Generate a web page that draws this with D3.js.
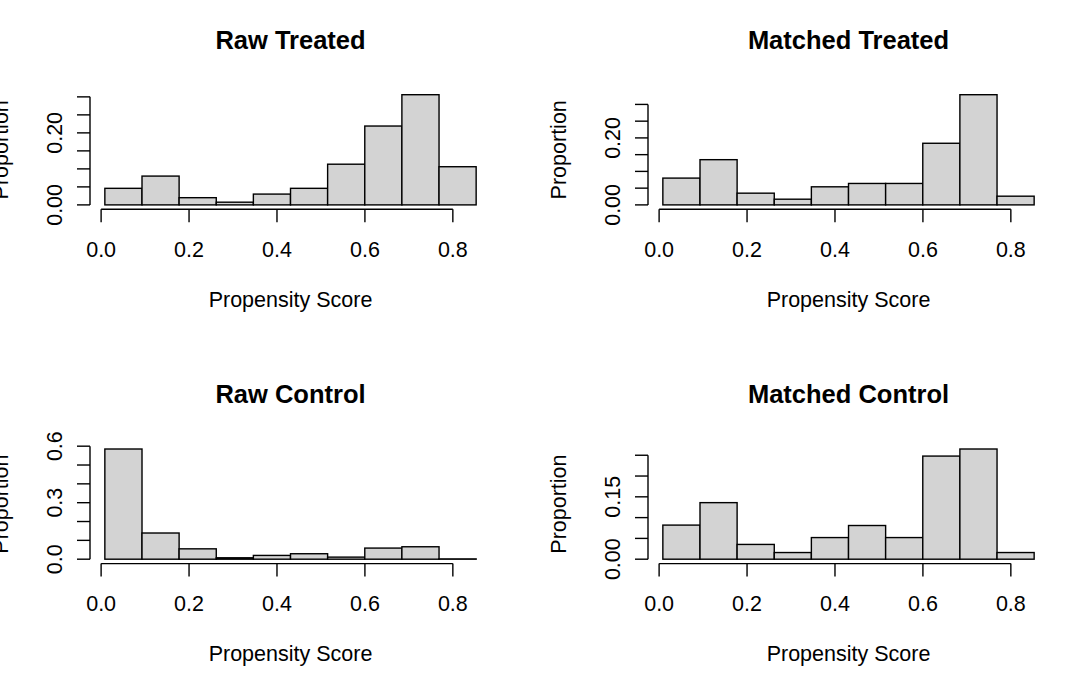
<!DOCTYPE html>
<html>
<head>
<meta charset="utf-8">
<script src="https://cdn.jsdelivr.net/npm/d3@7"></script>
<style>
  body { margin: 0; background: #fff; }
  svg text { font-family: "Liberation Sans", Arial, sans-serif; fill: #000; }
</style>
</head>
<body>
<svg id="chart" width="1080" height="673"></svg>
<script>
// histogram bin edges (shared by all four panels)
var breaks = [0.0085, 0.0930, 0.1774, 0.2619, 0.3463, 0.4308, 0.5152, 0.5997, 0.6841, 0.7686, 0.8530];

// proportions per bin
var rawTreated     = [0.046, 0.080, 0.020, 0.0075, 0.030, 0.046, 0.113, 0.219, 0.306, 0.106];
var matchedTreated = [0.080, 0.135, 0.035, 0.017, 0.054, 0.064, 0.064, 0.184, 0.329, 0.026];
var rawControl     = [0.585, 0.139, 0.055, 0.0075, 0.020, 0.029, 0.011, 0.059, 0.066, 0.0015];
var matchedControl = [0.082, 0.136, 0.0355, 0.016, 0.052, 0.081, 0.052, 0.248, 0.265, 0.016];

var titles = ["Raw Treated", "Matched Treated", "Raw Control", "Matched Control"];

// axis ticks
var xTicks = [0, 0.2, 0.4, 0.6, 0.8];
var xTickLabels = ["0.0", "0.2", "0.4", "0.6", "0.8"];
var yTicksTreated = [0, 0.05, 0.10, 0.15, 0.20, 0.25, 0.30];
var yTicksRawControl = [0, 0.1, 0.2, 0.3, 0.4, 0.5, 0.6];
var yTicksMatchedControl = [0, 0.05, 0.10, 0.15, 0.20, 0.25];
// only some tick labels are printed (R drops the overlapping ones)
var yLabelsTreated = [[0, "0.00"], [0.20, "0.20"]];
var yLabelsRawControl = [[0, "0.0"], [0.3, "0.3"], [0.6, "0.6"]];
var yLabelsMatchedControl = [[0, "0.00"], [0.15, "0.15"]];

var panels = [
  { title: titles[0], values: rawTreated,     yTicks: yTicksTreated,        yLabels: yLabelsTreated,        col: 0, row: 0 },
  { title: titles[1], values: matchedTreated, yTicks: yTicksTreated,        yLabels: yLabelsTreated,        col: 1, row: 0 },
  { title: titles[2], values: rawControl,     yTicks: yTicksRawControl,     yLabels: yLabelsRawControl,     col: 0, row: 1 },
  { title: titles[3], values: matchedControl, yTicks: yTicksMatchedControl, yLabels: yLabelsMatchedControl, col: 1, row: 1 }
];

var svg = d3.select("#chart");
var colLeft = [90, 648], rowTop = [90.3, 444.6];
var pw = 401, ph = 119, tickLen = 13;

panels.forEach(function(p) {
  var left = colLeft[p.col], top = rowTop[p.row];
  var g = svg.append("g").attr("transform", "translate(" + left + "," + top + ")");

  // R style 4% padding on both axes
  var lo = breaks[0], hi = breaks[breaks.length - 1], pad = (hi - lo) * 0.04;
  var x = d3.scaleLinear().domain([lo - pad, hi + pad]).range([0, pw]);
  var ymax = d3.max(p.values);
  var y = d3.scaleLinear().domain([-0.04 * ymax, 1.04 * ymax]).range([ph, 0]);

  var bins = p.values.map(function(v, i) { return { x0: breaks[i], x1: breaks[i + 1], v: v }; });

  g.selectAll(".bar").data(bins).enter().append("rect")
    .attr("class", "bar")
    .attr("x", function(d) { return x(d.x0); })
    .attr("width", function(d) { return x(d.x1) - x(d.x0); })
    .attr("y", function(d) { return y(d.v); })
    .attr("height", function(d) { return y(0) - y(d.v); })
    .attr("fill", "#d3d3d3")
    .attr("stroke", "#000")
    .attr("stroke-width", 1.4);

  // x axis
  var xa = g.append("g").attr("transform", "translate(0," + ph + ")");
  xa.append("line")
    .attr("x1", x(xTicks[0])).attr("x2", x(xTicks[xTicks.length - 1]))
    .attr("stroke", "#000").attr("stroke-width", 1.4);
  xa.selectAll(".xt").data(xTicks).enter().append("line")
    .attr("x1", function(d) { return x(d); }).attr("x2", function(d) { return x(d); })
    .attr("y1", 0).attr("y2", tickLen)
    .attr("stroke", "#000").attr("stroke-width", 1.4);
  xa.selectAll(".xl").data(xTicks).enter().append("text")
    .attr("x", function(d) { return x(d); })
    .attr("y", 47.5)
    .attr("text-anchor", "middle")
    .attr("font-size", 21.5)
    .text(function(d, i) { return xTickLabels[i]; });
  xa.append("text")
    .attr("x", pw / 2).attr("y", 97.5)
    .attr("text-anchor", "middle").attr("font-size", 21.5)
    .text("Propensity Score");

  // y axis
  var ya = g.append("g");
  ya.append("line")
    .attr("y1", y(p.yTicks[0])).attr("y2", y(p.yTicks[p.yTicks.length - 1]))
    .attr("stroke", "#000").attr("stroke-width", 1.4);
  ya.selectAll(".yt").data(p.yTicks).enter().append("line")
    .attr("x1", 0).attr("x2", -tickLen)
    .attr("y1", function(d) { return y(d); }).attr("y2", function(d) { return y(d); })
    .attr("stroke", "#000").attr("stroke-width", 1.4);
  ya.selectAll(".yl").data(p.yLabels).enter().append("text")
    .attr("transform", function(d) { return "translate(-28," + y(d[0]) + ") rotate(-90)"; })
    .attr("text-anchor", "middle").attr("font-size", 21.5)
    .text(function(d) { return d[1]; });
  ya.append("text")
    .attr("transform", "translate(-82," + ph / 2 + ") rotate(-90)")
    .attr("text-anchor", "middle").attr("font-size", 21.5)
    .text("Proportion");

  // title
  g.append("text")
    .attr("x", pw / 2).attr("y", 49 - 90.3)
    .attr("text-anchor", "middle")
    .attr("font-size", 25.5).attr("font-weight", "bold")
    .text(p.title);
});
</script>
</body>
</html>
